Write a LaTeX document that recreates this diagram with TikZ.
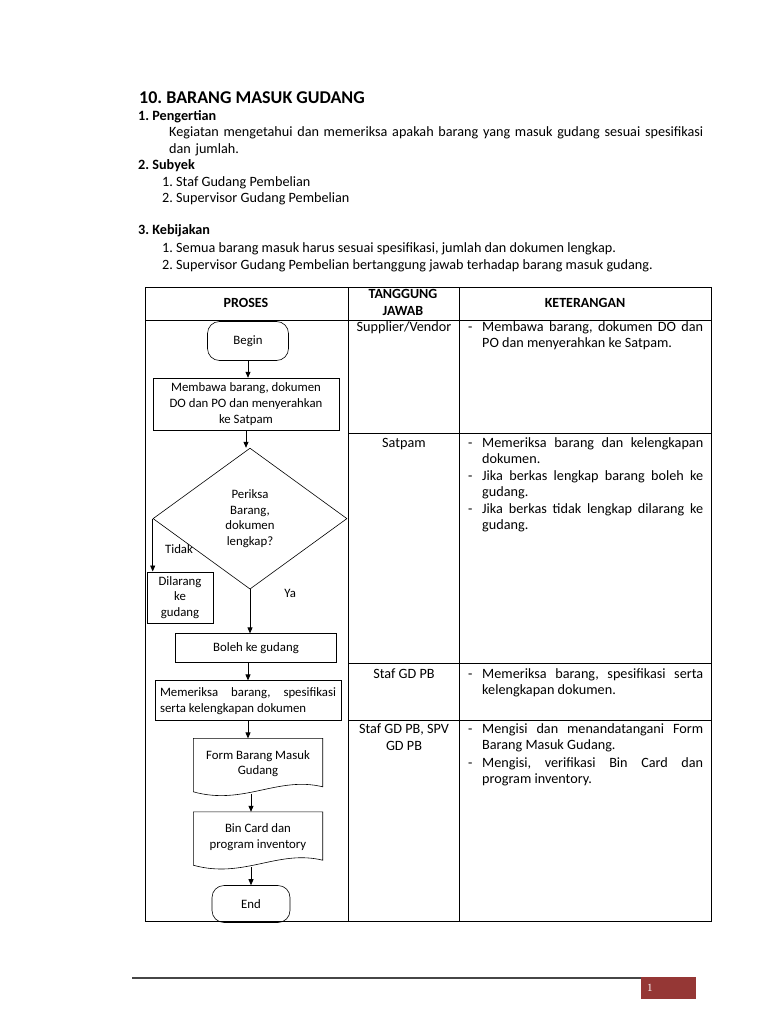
\documentclass[tikz,border=0pt]{standalone}
\usepackage{fontspec}
\setmainfont{Carlito}
\newfontfamily\angkafont{Liberation Serif}
\usepackage{xcolor}
\usetikzlibrary{positioning,shapes.geometric,arrows.meta}
\frenchspacing
\definecolor{halmerah}{RGB}{149,55,53}
\definecolor{garisabu}{RGB}{70,70,70}
\newcommand{\isifont}{\fontsize{14.2}{16.6}\selectfont}
\newcommand{\alurfont}{\fontsize{12.8}{15.8}\selectfont}
\tikzstyle{isi}=[inner sep=0pt, anchor=base west, font=\isifont]
\tikzstyle{tengah}=[inner sep=0pt, anchor=base, font=\isifont, align=center]
\tikzstyle{judul}=[inner sep=0pt, anchor=base, font=\fontsize{14}{16.4}\selectfont\bfseries, align=center]
\tikzstyle{ket}=[isi, text width=221pt, align=justify]
\tikzstyle{proses}=[rectangle, draw=black, line width=1pt, font=\alurfont, align=center, inner sep=2pt]
\tikzstyle{terminal}=[rectangle, draw=black, rounded corners=12pt, line width=0.6pt,
        font=\alurfont, minimum width=81pt, minimum height=39pt]
\tikzstyle{keputusan}=[diamond, draw=black, line width=0.6pt, font=\alurfont, align=center,
        minimum width=194pt, minimum height=141pt, inner sep=0pt]
\tikzstyle{dokumen}=[rectangle, font=\alurfont, align=center, minimum width=129pt, minimum height=50pt]
\tikzstyle{panah}=[-{Triangle[length=6pt,width=5pt]}, line width=0.8pt]

\begin{document}
\begin{tikzpicture}[x=1pt, y=-1pt, node distance=17pt]
  \fill[white] (0,0) rectangle (768,1024);
  \useasboundingbox (0,0) rectangle (768,1024);

  % bagian atas
  \node (judulhal) [isi, font=\fontsize{18}{21}\selectfont\bfseries] at (139,104) {10. BARANG MASUK GUDANG};
  \node (pengertian) [isi, font=\isifont\bfseries] at (138,121) {1. Pengertian};
  \node (kegiatan) [isi, text width=580pt, align=left] at (169,137)
  {Kegiatan mengetahui dan memeriksa apakah barang yang masuk gudang sesuai spesifikasi\\dan jumlah.};
  \node (subyek) [isi, font=\isifont\bfseries] at (138,170) {2. Subyek};
  \node (subyek1) [isi] at (162,187) {1. Staf Gudang Pembelian};
  \node (subyek2) [isi] at (162,203) {2. Supervisor Gudang Pembelian};
  \node (kebijakan) [isi, font=\isifont\bfseries] at (138,235) {3. Kebijakan};
  \node (kebijakan1) [isi] at (162,252) {1. Semua barang masuk harus sesuai spesifikasi, jumlah dan dokumen lengkap.};
  \node (kebijakan2) [isi] at (162,269) {2. Supervisor Gudang Pembelian bertanggung jawab terhadap barang masuk gudang.};

  % tabel
  \draw[line width=0.8pt] (145,287) rectangle (711,921);
  \draw[line width=0.8pt] (145,320) -- (711,320);
  \draw[line width=0.8pt] (348,287) -- (348,921);
  \draw[line width=0.8pt] (459,287) -- (459,921);
  \draw[line width=0.8pt] (348,433) -- (711,433);
  \draw[line width=0.8pt] (348,663) -- (711,663);
  \draw[line width=0.8pt] (348,720) -- (711,720);

  \node (hproses) [judul] at (246,307) {PROSES};
  \node (hjawab) [judul] at (403,315) {TANGGUNG\\JAWAB};
  \node (hket) [judul] at (585,307) {KETERANGAN};

  % alur proses
  \node (mulai) [terminal] at (248,341) {Begin};
  \node (bawa) [proses, minimum width=186pt, minimum height=52pt, below=of mulai, xshift=-2pt]
  {Membawa barang, dokumen\\DO dan PO dan menyerahkan\\ke Satpam};
  \node (cek) [keputusan, below=of bawa, xshift=4pt]
  {Periksa\\Barang,\\dokumen\\lengkap?};
  \node (dilarang) [proses, minimum width=66pt, minimum height=51pt] at (180,597.5)
  {Dilarang\\ke\\gudang};
  \node (boleh) [proses, minimum width=161pt, minimum height=29pt, below=44pt of cek, xshift=6pt]
  {Boleh ke gudang};
  \node (periksa) [proses, minimum width=186pt, minimum height=40pt, text width=176pt, align=justify,
    below=of boleh, xshift=-8pt]
  {Memeriksa barang, spesifikasi\linebreak serta kelengkapan dokumen};
  \node (form) [dokumen, below=of periksa, xshift=10pt] {Form Barang Masuk\\Gudang};
  \node (bincard) [dokumen, below=23pt of form] {Bin Card dan\\program inventory};
  \node (selesai) [terminal, minimum width=78pt, minimum height=37pt, below=23pt of bincard, xshift=-7pt] {End};

  \draw[line width=0.6pt] (form.north west) -- (form.north east) -- ([yshift=2pt]form.south east)
    .. controls ([xshift=-45pt,yshift=13pt]form.south east) and ([xshift=50pt,yshift=-17pt]form.south west)
    .. ([yshift=-3pt]form.south west) -- cycle;
  \draw[line width=0.6pt] (bincard.north west) -- (bincard.north east) -- ([yshift=2pt]bincard.south east)
    .. controls ([xshift=-45pt,yshift=13pt]bincard.south east) and ([xshift=50pt,yshift=-17pt]bincard.south west)
    .. ([yshift=-3pt]bincard.south west) -- cycle;

  \draw[panah] (mulai.south) -- (mulai.south |- bawa.north);
  \draw[panah] (bawa.south) -- (bawa.south |- cek.north);
  \draw[panah] (cek.west) -- (cek.west |- dilarang.north)
    node[pos=0.58, right=12pt, font=\alurfont, inner sep=0pt] {Tidak};
  \draw[panah] (cek.south) -- (cek.south |- boleh.north)
    node[pos=0.1, right=34pt, font=\alurfont, inner sep=0pt] {Ya};
  \draw[panah] (periksa.north |- boleh.south) -- (periksa.north);
  \draw[panah] (periksa.south) -- (periksa.south |- form.north);
  \draw[panah] ([xshift=-7pt,yshift=-5pt]form.south) -- ([xshift=-7pt]form.south |- bincard.north);
  \draw[panah] ([xshift=-7pt,yshift=-5pt]bincard.south) -- ([xshift=-7pt]bincard.south |- selesai.north);

  % tanggung jawab
  \node (vendor) [tengah] at (404,331) {Supplier/Vendor};
  \node (satpam) [tengah] at (404,447) {Satpam};
  \node (staf) [tengah] at (404,678) {Staf GD PB};
  \node (stafspv) [tengah] at (404,750) {Staf GD PB, SPV\\GD PB};

  % keterangan
  \node (strip1) [isi] at (468,331) {-};
  \node (ket1) [ket] at (482,331) {Membawa barang, dokumen DO dan\linebreak PO dan menyerahkan ke Satpam.};
  \node (strip2) [isi] at (468,447) {-};
  \node (ket2) [ket] at (482,447) {Memeriksa barang dan kelengkapan\linebreak dokumen.};
  \node (strip3) [isi] at (468,480) {-};
  \node (ket3) [ket] at (482,480) {Jika berkas lengkap barang boleh ke\linebreak gudang.};
  \node (strip4) [isi] at (468,513) {-};
  \node (ket4) [ket] at (482,513) {Jika berkas tidak lengkap dilarang ke\linebreak gudang.};
  \node (strip5) [isi] at (468,678) {-};
  \node (ket5) [ket] at (482,678) {Memeriksa barang, spesifikasi serta\linebreak kelengkapan dokumen.};
  \node (strip6) [isi] at (468,733) {-};
  \node (ket6) [ket] at (482,733) {Mengisi dan menandatangani Form\linebreak Barang Masuk Gudang.};
  \node (strip7) [isi] at (468,767) {-};
  \node (ket7) [ket] at (482,767) {Mengisi, verifikasi Bin Card dan\linebreak program inventory.};

  % kaki halaman
  \draw[garisabu, line width=2pt] (132,978) -- (641,978);
  \node (halaman) [anchor=north west, fill=halmerah, text=white, minimum width=55pt, minimum height=22pt,
    inner xsep=6pt, text width=43pt, align=left, font=\angkafont\fontsize{11}{13}\selectfont] at (641,977) {1};
\end{tikzpicture}
\end{document}
